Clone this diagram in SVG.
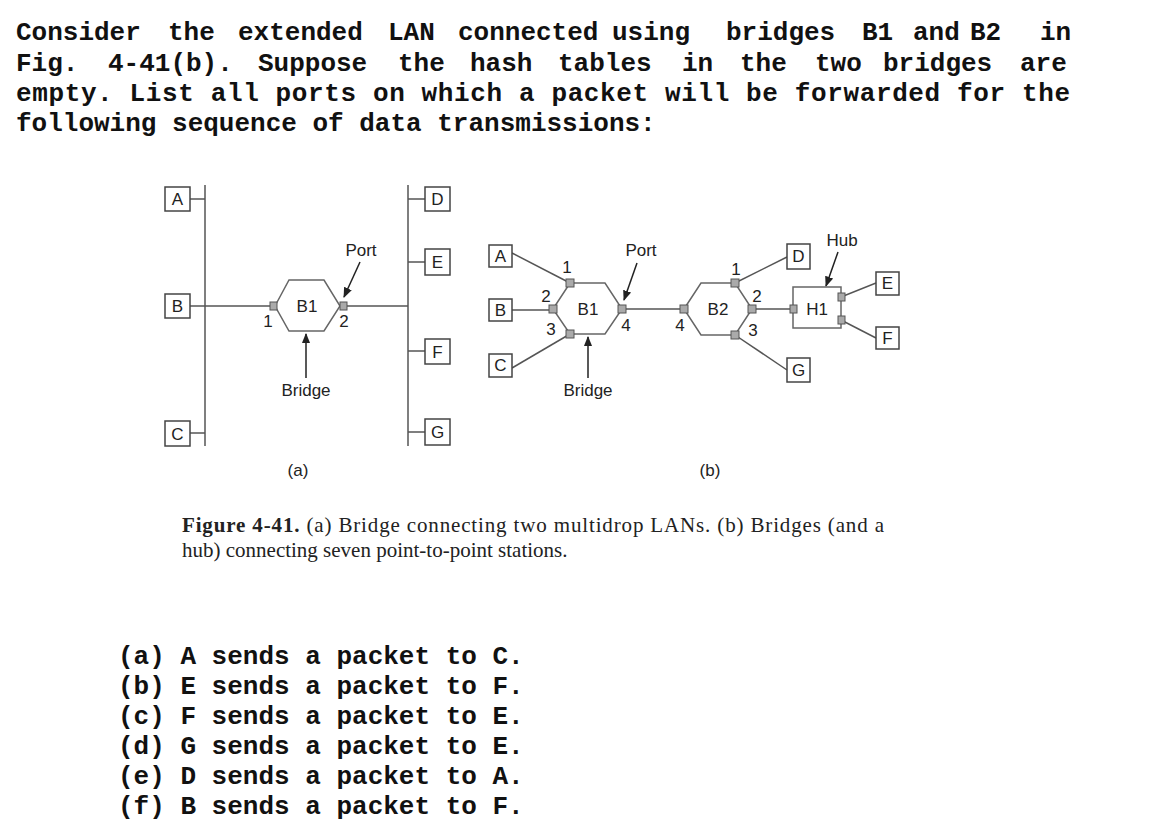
<svg xmlns="http://www.w3.org/2000/svg" width="1152" height="835" viewBox="0 0 1152 835">
<defs>
<marker id="ah" viewBox="0 0 10 10" refX="9" refY="5" markerWidth="7" markerHeight="7" orient="auto"><path d="M0,1 L10,5 L0,9 z" fill="#222"/></marker>
<style>
.q{font-family:"Liberation Mono",monospace;font-weight:bold;font-size:26px;fill:#111}
.d{font-family:"Liberation Sans",Arial,sans-serif;font-size:17px;fill:#222}
.c{font-family:"Liberation Serif",serif;font-size:21px;fill:#222}
.box{fill:#fff;stroke:#444;stroke-width:1.5}
.ln{stroke:#555;stroke-width:1.5;fill:none}
.hex{fill:#fff;stroke:#666;stroke-width:1.5}
.pt{fill:#aaa;stroke:#555;stroke-width:1}
.ar{stroke:#222;stroke-width:1.5;marker-end:url(#ah)}
</style>
</defs>
<rect width="1152" height="835" fill="#fff"/>
<g id="header" class="q">
<text y="40"><tspan x="16">Consider</tspan><tspan x="168">the</tspan><tspan x="238">extended</tspan><tspan x="388">LAN</tspan><tspan x="458">connected</tspan><tspan x="612">using</tspan><tspan x="726">bridges</tspan><tspan x="862">B1</tspan><tspan x="913">and</tspan><tspan x="970">B2</tspan><tspan x="1040">in</tspan></text>
<text y="71"><tspan x="16">Fig.</tspan><tspan x="108">4-41(b).</tspan><tspan x="258">Suppose</tspan><tspan x="398">the</tspan><tspan x="470">hash</tspan><tspan x="558">tables</tspan><tspan x="682">in</tspan><tspan x="740">the</tspan><tspan x="815">two</tspan><tspan x="883">bridges</tspan><tspan x="1020">are</tspan></text>
<text x="16" y="101" textLength="1054" lengthAdjust="spacing">empty. List all ports on which a packet will be forwarded for the</text>
<text x="16" y="131">following sequence of data transmissions:</text>
</g>
<g id="connectors">
<line class="ln" x1="205" y1="185" x2="205" y2="446"/>
<line class="ln" x1="408" y1="185" x2="408" y2="446"/>
<line class="ln" x1="190" y1="199" x2="205" y2="199"/>
<line class="ln" x1="190" y1="306" x2="271" y2="306"/>
<line class="ln" x1="190" y1="433" x2="205" y2="433"/>
<line class="ln" x1="344" y1="306" x2="408" y2="306"/>
<line class="ln" x1="408" y1="199" x2="425" y2="199"/>
<line class="ln" x1="408" y1="262" x2="425" y2="262"/>
<line class="ln" x1="408" y1="351" x2="425" y2="351"/>
<line class="ln" x1="408" y1="432" x2="425" y2="432"/>
<line class="ar" x1="360" y1="262" x2="344" y2="297"/>
<line class="ar" x1="306" y1="378" x2="306" y2="334"/>
<line class="ln" x1="512" y1="253" x2="570" y2="283"/>
<line class="ln" x1="512" y1="310" x2="553" y2="310"/>
<line class="ln" x1="512" y1="368" x2="570" y2="334"/>
<line class="ln" x1="622" y1="309" x2="684" y2="309"/>
<line class="ln" x1="735" y1="283" x2="787" y2="257"/>
<line class="ln" x1="735" y1="335" x2="787" y2="370"/>
<line class="ln" x1="752" y1="309" x2="793" y2="309"/>
<line class="ln" x1="841" y1="297" x2="876" y2="283"/>
<line class="ln" x1="841" y1="320" x2="876" y2="338"/>
<line class="ar" x1="637" y1="263" x2="624" y2="300"/>
<line class="ar" x1="588" y1="378" x2="588" y2="337"/>
<line class="ar" x1="838" y1="252" x2="826" y2="286"/>
</g>
<g id="fig-a">
<g id="a-A"><rect class="box" x="165" y="187" width="25" height="24"/><text class="d" x="177.5" y="205" text-anchor="middle">A</text></g>
<g id="a-B"><rect class="box" x="165" y="294" width="25" height="24"/><text class="d" x="177.5" y="312" text-anchor="middle">B</text></g>
<g id="a-C"><rect class="box" x="165" y="421" width="25" height="25"/><text class="d" x="177.5" y="440" text-anchor="middle">C</text></g>
<g id="a-D"><rect class="box" x="425" y="187" width="25" height="24"/><text class="d" x="437.5" y="205" text-anchor="middle">D</text></g>
<g id="a-E"><rect class="box" x="425" y="249" width="25" height="26"/><text class="d" x="437.5" y="268" text-anchor="middle">E</text></g>
<g id="a-F"><rect class="box" x="425" y="339" width="25" height="25"/><text class="d" x="437.5" y="358" text-anchor="middle">F</text></g>
<g id="a-G"><rect class="box" x="425" y="419" width="25" height="26"/><text class="d" x="437.5" y="438" text-anchor="middle">G</text></g>
<g id="a-B1">
<polygon class="hex" points="275,306 289,280 324,280 340,306 324,331 289,331"/>
<rect class="pt" x="270" y="302" width="7" height="8"/><rect class="pt" x="340" y="302" width="7" height="8"/>
<text class="d" x="307" y="312" text-anchor="middle">B1</text>
<text class="d" x="268" y="327" text-anchor="middle">1</text><text class="d" x="344" y="327" text-anchor="middle">2</text>
</g>
<text class="d" x="361" y="256" text-anchor="middle">Port</text>
<text class="d" x="306" y="396" text-anchor="middle">Bridge</text>
<text class="d" x="298" y="476" text-anchor="middle">(a)</text>
</g>
<g id="fig-b">
<g id="b-A"><rect class="box" x="489" y="245" width="23" height="22"/><text class="d" x="500.5" y="262" text-anchor="middle">A</text></g>
<g id="b-B"><rect class="box" x="489" y="299" width="23" height="22"/><text class="d" x="500.5" y="316" text-anchor="middle">B</text></g>
<g id="b-C"><rect class="box" x="489" y="354" width="23" height="23"/><text class="d" x="500.5" y="371" text-anchor="middle">C</text></g>
<g id="b-D"><rect class="box" x="787" y="244" width="23" height="25"/><text class="d" x="798.5" y="262" text-anchor="middle">D</text></g>
<g id="b-G"><rect class="box" x="787" y="358" width="23" height="24"/><text class="d" x="798.5" y="376" text-anchor="middle">G</text></g>
<g id="b-E"><rect class="box" x="876" y="272" width="23" height="23"/><text class="d" x="887.5" y="289" text-anchor="middle">E</text></g>
<g id="b-F"><rect class="box" x="876" y="327" width="23" height="22"/><text class="d" x="887.5" y="344" text-anchor="middle">F</text></g>
<g id="b-B1">
<polygon class="hex" points="553,309 570,283 605,283 622,309 605,334 570,334"/>
<rect class="pt" x="566" y="279" width="8" height="8"/><rect class="pt" x="549" y="305" width="8" height="8"/><rect class="pt" x="566" y="330" width="8" height="8"/><rect class="pt" x="618" y="305" width="8" height="8"/>
<text class="d" x="588" y="315" text-anchor="middle">B1</text>
<text class="d" x="567" y="273" text-anchor="middle">1</text><text class="d" x="546" y="302" text-anchor="middle">2</text><text class="d" x="551" y="335" text-anchor="middle">3</text><text class="d" x="626" y="331" text-anchor="middle">4</text>
</g>
<g id="b-B2">
<polygon class="hex" points="684,309 701,283 735,283 752,309 735,335 701,335"/>
<rect class="pt" x="731" y="279" width="8" height="8"/><rect class="pt" x="680" y="305" width="8" height="8"/><rect class="pt" x="748" y="305" width="8" height="8"/><rect class="pt" x="731" y="331" width="8" height="8"/>
<text class="d" x="718" y="315" text-anchor="middle">B2</text>
<text class="d" x="736" y="275" text-anchor="middle">1</text><text class="d" x="757" y="302" text-anchor="middle">2</text><text class="d" x="753" y="336" text-anchor="middle">3</text><text class="d" x="680" y="331" text-anchor="middle">4</text>
</g>
<g id="b-H1">
<rect x="793" y="287" width="48" height="41" fill="#fff" stroke="#666" stroke-width="1.5"/>
<rect class="pt" x="790" y="305" width="7" height="8"/><rect class="pt" x="838" y="293" width="7" height="8"/><rect class="pt" x="838" y="316" width="7" height="8"/>
<text class="d" x="817" y="315" text-anchor="middle">H1</text>
</g>
<text class="d" x="641" y="256" text-anchor="middle">Port</text>
<text class="d" x="842" y="246" text-anchor="middle">Hub</text>
<text class="d" x="588" y="396" text-anchor="middle">Bridge</text>
<text class="d" x="710" y="476" text-anchor="middle">(b)</text>
</g>
<g id="caption" class="c">
<text x="182" y="532" textLength="702" lengthAdjust="spacing"><tspan font-weight="bold">Figure 4-41.</tspan> (a) Bridge connecting two multidrop LANs.  (b) Bridges (and a</text>
<text x="182" y="557">hub) connecting seven point-to-point stations.</text>
</g>
<g id="questions" class="q">
<text x="118" y="664">(a) A sends a packet to C.</text>
<text x="118" y="694">(b) E sends a packet to F.</text>
<text x="118" y="724">(c) F sends a packet to E.</text>
<text x="118" y="754">(d) G sends a packet to E.</text>
<text x="118" y="784">(e) D sends a packet to A.</text>
<text x="118" y="814">(f) B sends a packet to F.</text>
</g>
</svg>
